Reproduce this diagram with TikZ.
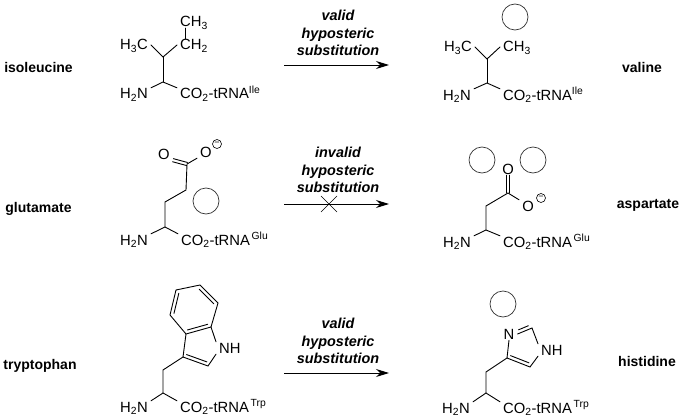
\documentclass[tikz,border=0pt]{standalone}
\usepackage{fontspec}
\setmainfont{Liberation Sans}
\usetikzlibrary{arrows.meta,calc}

\tikzset{
    atom/.style={font=\fontsize{14.8}{16}\selectfont,inner xsep=3pt,inner ysep=1pt,
        text height=10pt,text depth=0pt},
    bond/.style={line width=0.9pt,line cap=round},
    void/.style={draw=black!80,line width=0.7pt,circle,minimum size=26pt,inner sep=0pt},
    charge/.style={draw,line width=0.6pt,circle,minimum size=9pt,inner sep=0pt,
        font=\fontsize{9}{9}\selectfont},
    aminoname/.style={font=\fontsize{14}{16}\selectfont\bfseries,anchor=base},
    rxnlabel/.style={font=\fontsize{14.4}{17.5}\selectfont\bfseries\itshape,align=center},
    rxn/.style={line width=0.9pt,-{Stealth[length=13pt,width=8pt]}},
}
\newcommand{\innerline}[2]{\draw[bond,shorten <=2.5pt,shorten >=2.5pt]
    ($(#1)!3.5pt!90:(#2)$) -- ($(#2)!3.5pt!-90:(#1)$);}
\newcommand{\doubleline}[2]{\draw[bond]
    ($(#1)!1.6pt!90:(#2)$) -- ($(#2)!1.6pt!-90:(#1)$)
    ($(#1)!1.6pt!-90:(#2)$) -- ($(#2)!1.6pt!90:(#1)$);}

\begin{document}
\begin{tikzpicture}[x=1pt,y=-1pt]
    \useasboundingbox (0,0) rectangle (685,420);
    %% Names
    \node[aminoname] (isoname) at (38.5,72) {isoleucine};
    \node[aminoname] (gluname) at (38.5,212) {glutamate};
    \node[aminoname] (trpname) at (40,369) {tryptophan};
    \node[aminoname] (valname) at (642,72) {valine};
    \node[aminoname] (aspname) at (648,208) {aspartate};
    \node[aminoname] (hisname) at (647,366) {histidine};

    %% Arrows
    \coordinate (rxnAs) at (284,65);
    \coordinate (rxnAe) at (389,65);
    \coordinate (rxnBs) at (284,204);
    \coordinate (rxnBe) at (389,204);
    \coordinate (rxnCs) at (284,373);
    \coordinate (rxnCe) at (389,373);
    \draw[rxn] (rxnAs) -- (rxnAe);
    \draw[rxn] (rxnBs) -- (rxnBe);
    \draw[rxn] (rxnCs) -- (rxnCe);
    \node[rxnlabel] (rxnAtext) at (338,33) {valid\\hyposteric\\substitution};
    \node[rxnlabel] (rxnBtext) at (338,170) {invalid\\hyposteric\\substitution};
    \node[rxnlabel] (rxnCtext) at (338,341) {valid\\hyposteric\\substitution};
    \coordinate (crossA) at (321,196);
    \coordinate (crossB) at (337,212);
    \coordinate (crossC) at (321,212);
    \coordinate (crossD) at (337,196);
    \draw[line width=0.6pt] (crossA) -- (crossB);
    \draw[line width=0.6pt] (crossC) -- (crossD);

    %% Isoleucine
    \node[atom,anchor=base west] (isoch) at (177,27) {CH\textsubscript{3}};
    \node[atom,anchor=base west] (isocb) at (177,50) {CH\textsubscript{2}};
    \node[atom,anchor=base west] (isome) at (117,50) {H\textsubscript{3}C};
    \node[atom,anchor=base west] (isonh) at (117,99) {H\textsubscript{2}N};
    \node[atom,anchor=base west] (isoco) at (177,99) {CO\textsubscript{2}-tRNA\textsuperscript{Ile}};
    \coordinate (isocg) at (163,57);
    \coordinate (isoca) at (163,82);
    \draw[bond] ([xshift=8pt]isoch.south west) -- ([xshift=8pt]isocb.north west);
    \draw[bond] (isome.east) -- (isocg) -- (isocb.west);
    \draw[bond] (isocg) -- (isoca);
    \draw[bond] (isonh.north east) -- (isoca) -- (isoco.north west);

    %% Valine
    \node[void] (valvoid) at (515,17) {};
    \node[atom,anchor=base west] (valmea) at (441,52) {H\textsubscript{3}C};
    \node[atom,anchor=base west] (valmeb) at (500,52) {CH\textsubscript{3}};
    \node[atom,anchor=base west] (valnh) at (440,100) {H\textsubscript{2}N};
    \node[atom,anchor=base west] (valco) at (500,100) {CO\textsubscript{2}-tRNA\textsuperscript{Ile}};
    \coordinate (valcb) at (487,59);
    \coordinate (valca) at (487,83);
    \draw[bond] (valmea.east) -- (valcb) -- (valmeb.west);
    \draw[bond] (valcb) -- (valca);
    \draw[bond] (valnh.north east) -- (valca) -- (valco.north west);

    %% Glutamate
    \node[atom] (gluod) at (164,154) {O};
    \node[atom] (gluos) at (206,152) {O};
    \node[charge] (gluminus) at (217,144) {\textminus};
    \node[void] (gluvoid) at (206,201) {};
    \node[atom,anchor=base west] (glunh) at (117,245) {H\textsubscript{2}N};
    \node[atom,anchor=base west] (gluco) at (178,245) {CO\textsubscript{2}-tRNA\textsuperscript{\,Glu}};
    \coordinate (gluc) at (187,164);
    \coordinate (glucg) at (186,190);
    \coordinate (glucb) at (165,202);
    \coordinate (gluca) at (165,227);
    \doubleline{gluod.south east}{gluc}
    \draw[bond] (gluos.south west) -- (gluc) -- (glucg) -- (glucb) -- (gluca);
    \draw[bond] (glunh.north east) -- (gluca) -- (gluco.north west);

    %% Aspartate
    \node[void] (aspvoida) at (482,160) {};
    \node[void] (aspvoidb) at (533,160) {};
    \node[atom] (aspod) at (508,169) {O};
    \node[atom] (aspos) at (528,206) {O};
    \node[charge] (aspminus) at (541,198) {\textminus};
    \node[atom,anchor=base west] (aspnh) at (440,247) {H\textsubscript{2}N};
    \node[atom,anchor=base west] (aspco) at (500,247) {CO\textsubscript{2}-tRNA\textsuperscript{\,Glu}};
    \coordinate (aspc) at (508,193);
    \coordinate (aspcb) at (486,206);
    \coordinate (aspca) at (486,230);
    \doubleline{aspod.south}{aspc}
    \draw[bond] (aspos.north west) -- (aspc) -- (aspcb) -- (aspca);
    \draw[bond] (aspnh.north east) -- (aspca) -- (aspco.north west);

    %% Tryptophan
    \node[atom,anchor=base west] (trpnh) at (216,353) {NH};
    \node[atom,anchor=base west] (trpam) at (117,412) {H\textsubscript{2}N};
    \node[atom,anchor=base west] (trpco) at (177,412) {CO\textsubscript{2}-tRNA\textsuperscript{\,Trp}};
    \coordinate (trpra) at (176,290);
    \coordinate (trprb) at (200,285);
    \coordinate (trprc) at (218,303);
    \coordinate (trprd) at (211,327);
    \coordinate (trpre) at (186,334);
    \coordinate (trprf) at (170,315);
    \coordinate (trpcc) at (183,357);
    \coordinate (trpcd) at (208,366);
    \coordinate (trpcb) at (163,370);
    \coordinate (trpca) at (163,393);
    \draw[bond] (trpra) -- (trprb) -- (trprc) -- (trprd) -- (trpre) -- (trprf) -- cycle;
    \draw[bond] (trprd) -- (trpnh.north west);
    \draw[bond] (trpnh.south west) -- (trpcd) -- (trpcc) -- (trpre);
    \draw[bond] (trpcc) -- (trpcb) -- (trpca);
    \draw[bond] (trpam.north east) -- (trpca) -- (trpco.north west);
    \innerline{trpra}{trprf}
    \innerline{trprc}{trprb}
    \innerline{trpre}{trprd}
    \innerline{trpcc}{trpcd}

    %% Histidine
    \node[void] (hisvoid) at (503,304) {};
    \node[atom] (hisn) at (509,334) {N};
    \node[atom,anchor=base west] (hisnh) at (538,355) {NH};
    \node[atom,anchor=base west] (hisam) at (439,413) {H\textsubscript{2}N};
    \node[atom,anchor=base west] (hisco) at (500,413) {CO\textsubscript{2}-tRNA\textsuperscript{\,Trp}};
    \coordinate (hiscd) at (532,328);
    \coordinate (hisce) at (530,367);
    \coordinate (hiscf) at (507,358);
    \coordinate (hiscb) at (486,372);
    \coordinate (hisca) at (486,393);
    \draw[bond] (hisn.east) -- (hiscd) -- (hisnh.north west);
    \draw[bond] (hisnh.south west) -- (hisce) -- (hiscf) -- (hisn.south);
    \draw[bond] (hiscf) -- (hiscb) -- (hisca);
    \draw[bond] (hisam.north east) -- (hisca) -- (hisco.north west);
    \innerline{hisn.east}{hiscd}
    \innerline{hiscf}{hisce}
\end{tikzpicture}
\end{document}
